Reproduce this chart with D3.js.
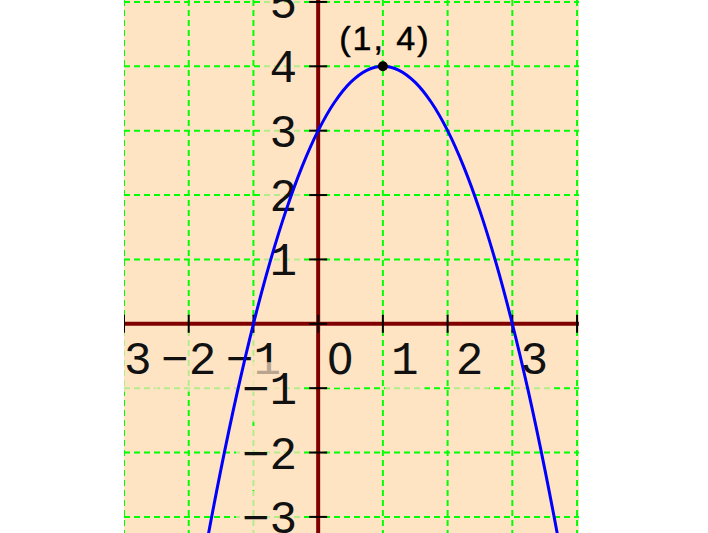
<!DOCTYPE html>
<html><head><meta charset="utf-8">
<script src="https://cdn.jsdelivr.net/npm/d3@7"></script>
<style>body{margin:0;background:#fff}</style>
</head><body><svg id="chart" width="708" height="533"></svg>
<script>
// values
const xTicks = [-3, -2, -1, 0, 1, 2, 3, 4];
const yTicks = [-3, -2, -1, 0, 1, 2, 3, 4, 5];
const xLabels = [-3, -2, -1, 0, 1, 2, 3, 4];
const yLabels = [-3, -2, -1, 1, 2, 3, 4, 5];
const curveX = [-2, -1.75, -1.5, -1.25, -1, -0.75, -0.5, -0.25, 0, 0.25, 0.5, 0.75, 1,
                1.25, 1.5, 1.75, 2, 2.25, 2.5, 2.75, 3, 3.25, 3.5, 3.75, 4];
const curveY = [-5, -3.5625, -2.25, -1.0625, 0, 0.9375, 1.75, 2.4375, 3, 3.4375, 3.75, 3.9375, 4,
                3.9375, 3.75, 3.4375, 3, 2.4375, 1.75, 0.9375, 0, -1.0625, -2.25, -3.5625, -5];
const vertex = {x: 1, y: 4, label: "(1, 4)"};

const svg = d3.select("#chart");
const plot = {left: 124, right: 579, top: 0, bottom: 533};
const bg = "#ffe4c4";

const x = d3.scaleLinear().domain([-3, 4.03]).range([plot.left, plot.right]);
const y = d3.scaleLinear().domain([5.03, -3.25]).range([plot.top, plot.bottom]);
const fmt = d => d < 0 ? "\u2212" + Math.abs(d) : String(d);

svg.append("clipPath").attr("id", "clip")
  .append("rect")
    .attr("x", plot.left).attr("y", plot.top)
    .attr("width", plot.right - plot.left).attr("height", plot.bottom - plot.top);

svg.append("rect")
  .attr("x", plot.left).attr("y", plot.top)
  .attr("width", plot.right - plot.left).attr("height", plot.bottom - plot.top)
  .attr("fill", bg);

let g = svg.append("g").attr("clip-path", "url(#clip)");

// grid
g.selectAll(".vgrid").data(xTicks).enter().append("line")
  .attr("class", "vgrid")
  .attr("x1", d => x(d)).attr("x2", d => x(d))
  .attr("y1", plot.top).attr("y2", plot.bottom)
  .attr("stroke", "#00ff00").attr("stroke-width", 2).attr("stroke-dasharray", "6,4");
g.selectAll(".hgrid").data(yTicks).enter().append("line")
  .attr("class", "hgrid")
  .attr("y1", d => y(d)).attr("y2", d => y(d))
  .attr("x1", plot.left).attr("x2", plot.right)
  .attr("stroke", "#00ff00").attr("stroke-width", 2).attr("stroke-dasharray", "6,4");

// axes
g.append("line")
  .attr("x1", plot.left).attr("x2", plot.right)
  .attr("y1", y(0)).attr("y2", y(0))
  .attr("stroke", "#800000").attr("stroke-width", 4);
g.append("line")
  .attr("x1", x(0)).attr("x2", x(0))
  .attr("y1", plot.top).attr("y2", plot.bottom)
  .attr("stroke", "#800000").attr("stroke-width", 4);

// label text sits on its baseline, digit height ~32px
function addLabel(tx, ty, text, anchor){
  let lg = g.append("g");
  let zero = text == "0";
  let t = lg.append("text")
    .attr("x", tx).attr("y", ty + 16)
    .attr("text-anchor", anchor)
    // plain zero, no dot inside
    .attr("font-family", zero ? "DejaVu Sans, sans-serif" : "Liberation Mono, monospace")
    .attr("font-size", zero ? 43 : 46)
    .attr("fill", "#111")
    .text(text);
  let b = t.node().getBBox();
  lg.insert("rect", "text")
    .attr("x", b.x - 6).attr("y", b.y - 4)
    .attr("width", b.width + 12).attr("height", b.height + 8)
    .attr("fill", bg).attr("opacity", 0.7);
}

xLabels.forEach(d => addLabel(d < 0 ? x(d) : x(d) + 22, y(0) + 34, fmt(d), "middle"));
yLabels.forEach(d => addLabel(x(0) - 21, y(d), fmt(d), "end"));

// ticks
g.selectAll(".xtick").data(xTicks).enter().append("line")
  .attr("x1", d => x(d)).attr("x2", d => x(d))
  .attr("y1", y(0) - 9).attr("y2", y(0) + 9)
  .attr("stroke", "#000").attr("stroke-width", 2);
g.selectAll(".ytick").data(yTicks).enter().append("line")
  .attr("y1", d => y(d)).attr("y2", d => y(d))
  .attr("x1", x(0) - 9).attr("x2", x(0) + 9)
  .attr("stroke", "#000").attr("stroke-width", 2);

// parabola
const pts = curveX.map((v, i) => [v, curveY[i]]);
g.append("path")
  .datum(pts)
  .attr("fill", "none")
  .attr("stroke", "#0000ff")
  .attr("stroke-width", 3)
  .attr("d", d3.line().x(d => x(d[0])).y(d => y(d[1])).curve(d3.curveCatmullRom));

g.append("circle")
  .attr("cx", x(vertex.x)).attr("cy", y(vertex.y)).attr("r", 5)
  .attr("fill", "#000");
g.append("text")
  .attr("x", x(vertex.x) + 2).attr("y", y(vertex.y) - 16)
  .attr("text-anchor", "middle")
  .attr("font-family", "Liberation Sans, Arial, sans-serif")
  .attr("font-size", 34)
  .attr("letter-spacing", 2)
  .attr("stroke", "#000").attr("stroke-width", 0.5)
  .attr("fill", "#000")
  .text(vertex.label);
</script>
</body></html>
